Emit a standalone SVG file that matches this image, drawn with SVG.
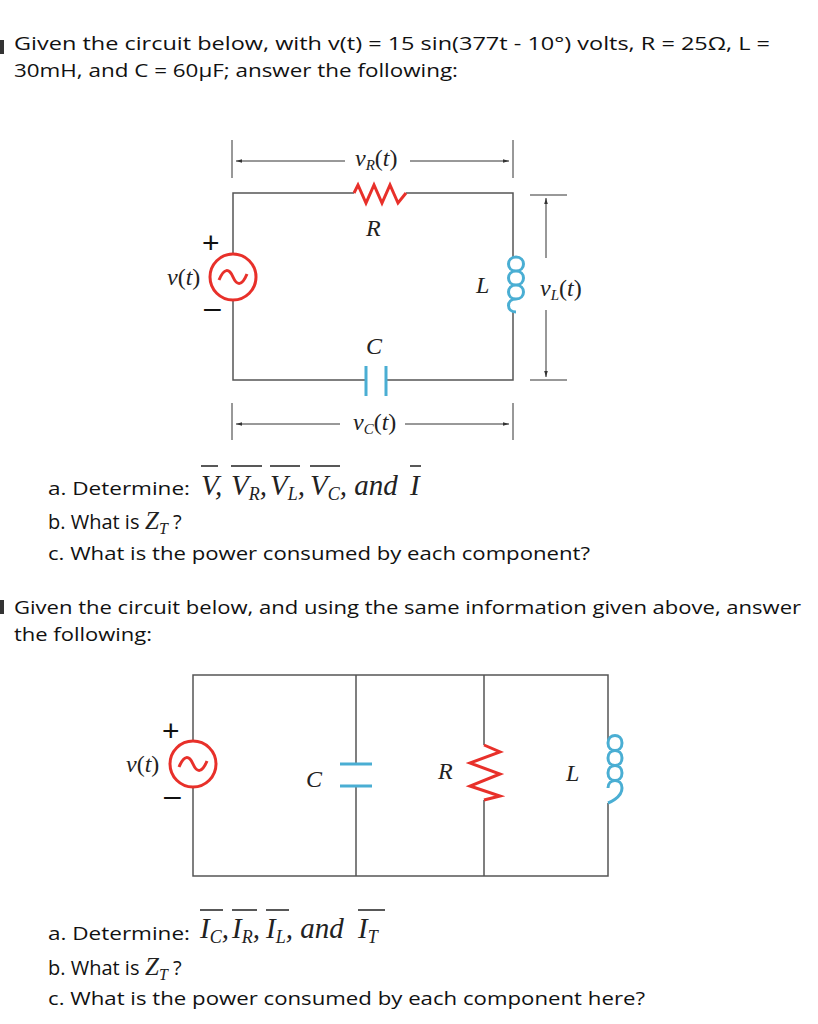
<svg xmlns="http://www.w3.org/2000/svg" width="818" height="1024" viewBox="0 0 818 1024">
<style>
.t{font-family:"Open Sans","DejaVu Sans",sans-serif;font-size:19px;fill:#111}
.p{font-family:"Liberation Sans",Arial,sans-serif;font-size:30px;fill:#111}
.m{font-family:"Liberation Serif","Times New Roman",serif;font-style:italic;font-size:29px;fill:#222}
.u{font-size:18px}
.l{font-family:"Liberation Serif","Times New Roman",serif;font-style:italic;font-size:24px;fill:#222}
.s{font-size:15px}
.w{stroke:#555;stroke-width:1.5;fill:none}
.r{stroke:#e8302a;stroke-width:3;fill:none}
.b{stroke:#4aaed3;stroke-width:3;fill:none}
.d{stroke:#333;stroke-width:1;fill:none}
.o{stroke:#222;stroke-width:1.5}
</style>
<defs><marker id="a" viewBox="0 0 10 10" refX="10" refY="5" markerWidth="8" markerHeight="6" orient="auto-start-reverse"><path d="M0,2L10,5L0,8z" fill="#333"/></marker></defs>
<rect width="818" height="1024" fill="#fff"/>
<rect x="0" y="40" width="4" height="14" fill="#333"/>
<text class="t" x="14" y="50" textLength="756" lengthAdjust="spacingAndGlyphs">Given the circuit below, with v(t) = 15 sin(377t - 10°) volts, R = 25Ω, L =</text>
<text class="t" x="14" y="77" textLength="444" lengthAdjust="spacingAndGlyphs">30mH, and C = 60μF; answer the following:</text>
<g id="c1">
<g id="wires1"><path class="w" d="M233,254V193H354M406,193H513V257M513,312V380H386M366,380H233V300"/></g>
<g id="src1"><circle cx="233" cy="277" r="23" stroke="#e8302a" stroke-width="3" fill="#fff"/><path class="r" d="M219,280c5,-12 10,-12 14,-3s9,9 14,-3"/>
<text class="p" x="202" y="253">+</text><text class="p" x="204" y="318">–</text>
<text class="l" x="167" y="285" style="font-style:normal"><tspan font-style="italic">v</tspan>(<tspan font-style="italic">t</tspan>)</text></g>
<g id="R1"><path class="r" d="M354,193L358,185L366,203L374,185L382,203L390,185L398,203L406,193"/><text class="l" x="366" y="236">R</text></g>
<g id="L1"><path class="b" d="M513,257c-10,0 -10,14 0,14s10,-14 0,-14M513,271c-10,0 -10,14 0,14s10,-14 0,-14M513,285c-10,0 -10,14 0,14s10,-14 0,-14M513,299c-10,0 -10,13 0,13" transform="translate(3,0)"/><text class="l" x="476" y="293">L</text></g>
<g id="C1"><path class="b" d="M366,366v30M386,366v30"/><text class="l" x="366" y="354">C</text></g>
<g id="dims1">
<path class="d" d="M232,140v38M513,140v38M232,403v37M513,403v37M530,195h37M530,380h37"/>
<path class="d" marker-start="url(#a)" d="M236,161H345"/><path class="d" marker-end="url(#a)" d="M410,161H509"/>
<path class="d" marker-start="url(#a)" d="M236,424H340"/><path class="d" marker-end="url(#a)" d="M405,424H509"/>
<path class="d" marker-start="url(#a)" d="M546,198V258"/><path class="d" marker-end="url(#a)" d="M546,310V377"/>
<text class="l" x="355" y="166"><tspan>v</tspan><tspan class="s" dy="4">R</tspan><tspan dy="-4" font-style="normal">(</tspan>t<tspan font-style="normal">)</tspan></text>
<text class="l" x="353" y="430"><tspan>v</tspan><tspan class="s" dy="4">C</tspan><tspan dy="-4" font-style="normal">(</tspan>t<tspan font-style="normal">)</tspan></text>
<text class="l" x="540" y="296"><tspan>v</tspan><tspan class="s" dy="4">L</tspan><tspan dy="-4" font-style="normal">(</tspan>t<tspan font-style="normal">)</tspan></text>
</g>
</g>
<text class="t" x="48" y="495" textLength="142" lengthAdjust="spacingAndGlyphs">a. Determine:</text>
<text class="m" x="201" y="495">V,</text>
<text class="m" x="231" y="495">V<tspan class="u" dy="5">R</tspan><tspan dy="-5">,</tspan></text>
<text class="m" x="270" y="495">V<tspan class="u" dy="5">L</tspan><tspan dy="-5">,</tspan></text>
<text class="m" x="310" y="495">V<tspan class="u" dy="5">C</tspan><tspan dy="-5">, and</tspan></text>
<text class="m" x="410" y="495">I</text>
<path class="o" d="M201,466h17M231,466h31M270,466h30M310,466h30M410,466h11"/>
<text class="t" x="48" y="529" style="font-size:20px">b. What is</text><text class="m" x="145" y="529" style="font-size:25px">Z<tspan class="u" dy="5" style="font-size:16px">T</tspan></text><text class="t" x="173" y="529" style="font-size:20px">?</text>
<text class="t" x="48" y="560" textLength="542" lengthAdjust="spacingAndGlyphs">c. What is the power consumed by each component?</text>
<rect x="0" y="600" width="4" height="14" fill="#333"/>
<text class="t" x="14" y="614" textLength="787" lengthAdjust="spacingAndGlyphs">Given the circuit below, and using the same information given above, answer</text>
<text class="t" x="14" y="641" textLength="138" lengthAdjust="spacingAndGlyphs">the following:</text>
<g id="c2">
<g id="wires2"><path class="w" d="M193,741V675H608V743M608,803V876H193V787M356,675V764M356,786V876M484,675V745M484,800V876"/></g>
<g id="src2"><circle cx="193" cy="764" r="23" stroke="#e8302a" stroke-width="3" fill="#fff"/><path class="r" d="M179,767c5,-12 10,-12 14,-3s9,9 14,-3"/>
<text class="p" x="162" y="741">+</text><text class="p" x="164" y="806">–</text>
<text class="l" x="126" y="772" style="font-style:normal"><tspan font-style="italic">v</tspan>(<tspan font-style="italic">t</tspan>)</text></g>
<g id="C2"><path class="b" d="M340,764h32M340,786h32"/><text class="l" x="306" y="787">C</text></g>
<g id="R2"><path class="r" d="M484,745L500,752L470,763L500,774L470,786L500,796L484,800"/><text class="l" x="438" y="779">R</text></g>
<g id="L2"><path class="b" d="M608,743c0,-10 14,-10 14,0s-14,10 -14,0M608,758c0,-10 14,-10 14,0s-14,10 -14,0M608,773c0,-10 14,-10 14,0s-14,10 -14,0M608,788c0,-10 14,-10 14,0s-14,15 -14,15"/><text class="l" x="566" y="781">L</text></g>
</g>
<text class="t" x="48" y="940" textLength="142" lengthAdjust="spacingAndGlyphs">a. Determine:</text>
<text class="m" x="200" y="938">I<tspan class="u" dy="5">C</tspan><tspan dy="-5">,</tspan></text>
<text class="m" x="232" y="938">I<tspan class="u" dy="5">R</tspan><tspan dy="-5">,</tspan></text>
<text class="m" x="266" y="938">I<tspan class="u" dy="5">L</tspan><tspan dy="-5">, and</tspan></text>
<text class="m" x="358" y="938">I<tspan class="u" dy="5">T</tspan></text>
<path class="o" d="M200,910h23M232,910h25M266,910h23M358,910h27"/>
<text class="t" x="48" y="975" style="font-size:20px">b. What is</text><text class="m" x="145" y="975" style="font-size:25px">Z<tspan class="u" dy="5" style="font-size:16px">T</tspan></text><text class="t" x="173" y="975" style="font-size:20px">?</text>
<text class="t" x="48" y="1005" textLength="597" lengthAdjust="spacingAndGlyphs">c. What is the power consumed by each component here?</text>
</svg>
